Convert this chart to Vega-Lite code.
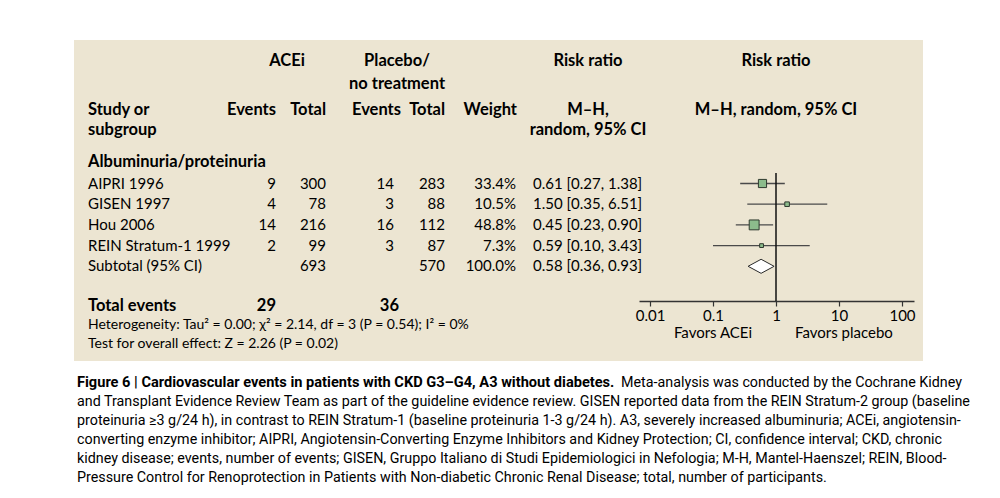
{
  "$schema": "https://vega.github.io/schema/vega-lite/v6.json",
  "width": 849,
  "height": 321,
  "autosize": {"type": "none"},
  "padding": {"left": 74, "top": 40, "right": 77, "bottom": 137},
  "background": "white",
  "config": {
    "view": {"fill": "#ece5d2", "stroke": null},
    "text": {"font": "Lato", "fontSize": 15, "color": "#000000", "baseline": "middle"}
  },
  "datasets": {
    "studies": [
      {"study": "AIPRI 1996", "line": "r1", "acei_e": 9, "acei_n": 300, "pl_e": 14, "pl_n": 283, "weight": "33.4%", "w": 33.4, "rr": 0.61, "lo": 0.27, "hi": 1.38, "ci": "0.61 [0.27, 1.38]", "kind": "study"},
      {"study": "GISEN 1997", "line": "r2", "acei_e": 4, "acei_n": 78, "pl_e": 3, "pl_n": 88, "weight": "10.5%", "w": 10.5, "rr": 1.5, "lo": 0.35, "hi": 6.51, "ci": "1.50 [0.35, 6.51]", "kind": "study"},
      {"study": "Hou 2006", "line": "r3", "acei_e": 14, "acei_n": 216, "pl_e": 16, "pl_n": 112, "weight": "48.8%", "w": 48.8, "rr": 0.45, "lo": 0.23, "hi": 0.9, "ci": "0.45 [0.23, 0.90]", "kind": "study"},
      {"study": "REIN Stratum-1 1999", "line": "r4", "acei_e": 2, "acei_n": 99, "pl_e": 3, "pl_n": 87, "weight": "7.3%", "w": 7.3, "rr": 0.59, "lo": 0.1, "hi": 3.43, "ci": "0.59 [0.10, 3.43]", "kind": "study"},
      {"study": "Subtotal (95% CI)", "line": "sub", "acei_e": null, "acei_n": 693, "pl_e": null, "pl_n": 570, "weight": "100.0%", "w": 100, "rr": 0.58, "lo": 0.36, "hi": 0.93, "ci": "0.58 [0.36, 0.93]", "kind": "subtotal"}
    ],
    "headers": [
      {"col": "study", "line": "h3", "label": "Study or"},
      {"col": "study", "line": "h4", "label": "subgroup"},
      {"col": "acei", "line": "h1", "label": "ACEi"},
      {"col": "acei_e", "line": "h3", "label": "Events"},
      {"col": "acei_n", "line": "h3", "label": "Total"},
      {"col": "pl", "line": "h1", "label": "Placebo/"},
      {"col": "pl", "line": "h2", "label": "no treatment"},
      {"col": "pl_e", "line": "h3", "label": "Events"},
      {"col": "pl_n", "line": "h3", "label": "Total"},
      {"col": "wt", "line": "h3", "label": "Weight"},
      {"col": "rr", "line": "h1", "label": "Risk ratio"},
      {"col": "rr", "line": "h3", "label": "M–H,"},
      {"col": "rr", "line": "h4", "label": "random, 95% CI"},
      {"col": "forest", "line": "h1", "label": "Risk ratio"},
      {"col": "forest", "line": "h3", "label": "M–H, random, 95% CI"}
    ],
    "totals": [
      {"label": "Total events", "line": "tot", "acei": 29, "pl": 36}
    ],
    "notes": [
      {"key": "het", "line": "het", "label": "Heterogeneity: Tau² = 0.00; χ² = 2.14, df = 3 (P = 0.54); I² = 0%"},
      {"key": "test", "line": "test", "label": "Test for overall effect: Z = 2.26 (P = 0.02)"}
    ],
    "captions": [
      {"line": "c1", "part": "bold", "label": "Figure 6 | Cardiovascular events in patients with CKD G3–G4, A3 without diabetes."},
      {"line": "c1", "part": "tail", "label": "Meta-analysis was conducted by the Cochrane Kidney"},
      {"line": "c2", "part": "body", "label": "and Transplant Evidence Review Team as part of the guideline evidence review. GISEN reported data from the REIN Stratum-2 group (baseline"},
      {"line": "c3", "part": "body", "label": "proteinuria ≥3 g/24 h), in contrast to REIN Stratum-1 (baseline proteinuria 1-3 g/24 h). A3, severely increased albuminuria; ACEi, angiotensin-"},
      {"line": "c4", "part": "body", "label": "converting enzyme inhibitor; AIPRI, Angiotensin-Converting Enzyme Inhibitors and Kidney Protection; CI, confidence interval; CKD, chronic"},
      {"line": "c5", "part": "body", "label": "kidney disease; events, number of events; GISEN, Gruppo Italiano di Studi Epidemiologici in Nefologia; M-H, Mantel-Haenszel; REIN, Blood-"},
      {"line": "c6", "part": "body", "label": "Pressure Control for Renoprotection in Patients with Non-diabetic Chronic Renal Disease; total, number of participants."}
    ]
  },
  "layer": [
    {
      "data": {"name": "headers"},
      "layer": [
        {"transform": [{"filter": "datum.col == 'study'"}], "mark": {"type": "text", "align": "left", "fontWeight": "bold", "fontSize": 16.5},
         "encoding": {"x": {"value": 14}, "y": {"field": "line", "type": "nominal", "scale": {"type": "point", "domain": ["h1", "x1", "x2", "x3", "x4", "x5", "x6", "x7", "h2", "x8", "x9", "x10", "x11", "x12", "x13", "x14", "x15", "h3", "x16", "x17", "x18", "x19", "x20", "x21", "h4"], "range": [21, 90], "padding": 0}, "axis": null}, "text": {"field": "label"}}},
        {"transform": [{"filter": "datum.col == 'acei'"}], "mark": {"type": "text", "align": "center", "fontWeight": "bold", "fontSize": 16.5},
         "encoding": {"x": {"value": 213}, "y": {"field": "line", "type": "nominal", "scale": {"type": "point", "domain": ["h1", "x1", "x2", "x3", "x4", "x5", "x6", "x7", "h2", "x8", "x9", "x10", "x11", "x12", "x13", "x14", "x15", "h3", "x16", "x17", "x18", "x19", "x20", "x21", "h4"], "range": [21, 90], "padding": 0}, "axis": null}, "text": {"field": "label"}}},
        {"transform": [{"filter": "datum.col == 'acei_e'"}], "mark": {"type": "text", "align": "right", "fontWeight": "bold", "fontSize": 16.5},
         "encoding": {"x": {"value": 202}, "y": {"field": "line", "type": "nominal", "scale": {"type": "point", "domain": ["h1", "x1", "x2", "x3", "x4", "x5", "x6", "x7", "h2", "x8", "x9", "x10", "x11", "x12", "x13", "x14", "x15", "h3", "x16", "x17", "x18", "x19", "x20", "x21", "h4"], "range": [21, 90], "padding": 0}, "axis": null}, "text": {"field": "label"}}},
        {"transform": [{"filter": "datum.col == 'acei_n'"}], "mark": {"type": "text", "align": "right", "fontWeight": "bold", "fontSize": 16.5},
         "encoding": {"x": {"value": 252}, "y": {"field": "line", "type": "nominal", "scale": {"type": "point", "domain": ["h1", "x1", "x2", "x3", "x4", "x5", "x6", "x7", "h2", "x8", "x9", "x10", "x11", "x12", "x13", "x14", "x15", "h3", "x16", "x17", "x18", "x19", "x20", "x21", "h4"], "range": [21, 90], "padding": 0}, "axis": null}, "text": {"field": "label"}}},
        {"transform": [{"filter": "datum.col == 'pl'"}], "mark": {"type": "text", "align": "center", "fontWeight": "bold", "fontSize": 16.5},
         "encoding": {"x": {"value": 323}, "y": {"field": "line", "type": "nominal", "scale": {"type": "point", "domain": ["h1", "x1", "x2", "x3", "x4", "x5", "x6", "x7", "h2", "x8", "x9", "x10", "x11", "x12", "x13", "x14", "x15", "h3", "x16", "x17", "x18", "x19", "x20", "x21", "h4"], "range": [21, 90], "padding": 0}, "axis": null}, "text": {"field": "label"}}},
        {"transform": [{"filter": "datum.col == 'pl_e'"}], "mark": {"type": "text", "align": "right", "fontWeight": "bold", "fontSize": 16.5},
         "encoding": {"x": {"value": 327}, "y": {"field": "line", "type": "nominal", "scale": {"type": "point", "domain": ["h1", "x1", "x2", "x3", "x4", "x5", "x6", "x7", "h2", "x8", "x9", "x10", "x11", "x12", "x13", "x14", "x15", "h3", "x16", "x17", "x18", "x19", "x20", "x21", "h4"], "range": [21, 90], "padding": 0}, "axis": null}, "text": {"field": "label"}}},
        {"transform": [{"filter": "datum.col == 'pl_n'"}], "mark": {"type": "text", "align": "right", "fontWeight": "bold", "fontSize": 16.5},
         "encoding": {"x": {"value": 371}, "y": {"field": "line", "type": "nominal", "scale": {"type": "point", "domain": ["h1", "x1", "x2", "x3", "x4", "x5", "x6", "x7", "h2", "x8", "x9", "x10", "x11", "x12", "x13", "x14", "x15", "h3", "x16", "x17", "x18", "x19", "x20", "x21", "h4"], "range": [21, 90], "padding": 0}, "axis": null}, "text": {"field": "label"}}},
        {"transform": [{"filter": "datum.col == 'wt'"}], "mark": {"type": "text", "align": "right", "fontWeight": "bold", "fontSize": 16.5},
         "encoding": {"x": {"value": 443}, "y": {"field": "line", "type": "nominal", "scale": {"type": "point", "domain": ["h1", "x1", "x2", "x3", "x4", "x5", "x6", "x7", "h2", "x8", "x9", "x10", "x11", "x12", "x13", "x14", "x15", "h3", "x16", "x17", "x18", "x19", "x20", "x21", "h4"], "range": [21, 90], "padding": 0}, "axis": null}, "text": {"field": "label"}}},
        {"transform": [{"filter": "datum.col == 'rr'"}], "mark": {"type": "text", "align": "center", "fontWeight": "bold", "fontSize": 16.5},
         "encoding": {"x": {"value": 514}, "y": {"field": "line", "type": "nominal", "scale": {"type": "point", "domain": ["h1", "x1", "x2", "x3", "x4", "x5", "x6", "x7", "h2", "x8", "x9", "x10", "x11", "x12", "x13", "x14", "x15", "h3", "x16", "x17", "x18", "x19", "x20", "x21", "h4"], "range": [21, 90], "padding": 0}, "axis": null}, "text": {"field": "label"}}},
        {"transform": [{"filter": "datum.col == 'forest'"}], "mark": {"type": "text", "align": "center", "fontWeight": "bold", "fontSize": 16.5},
         "encoding": {"x": {"datum": 1, "type": "quantitative", "scale": {"type": "log", "domain": [0.00669, 155], "range": [565, 840], "nice": false}, "title": null}, "y": {"field": "line", "type": "nominal", "scale": {"type": "point", "domain": ["h1", "x1", "x2", "x3", "x4", "x5", "x6", "x7", "h2", "x8", "x9", "x10", "x11", "x12", "x13", "x14", "x15", "h3", "x16", "x17", "x18", "x19", "x20", "x21", "h4"], "range": [21, 90], "padding": 0}, "axis": null}, "text": {"field": "label"}}}
      ]
    },
    {
      "layer": [
        {"data": {"values": [{"label": "Albuminuria/proteinuria", "line": "grp"}]},
         "mark": {"type": "text", "align": "left", "fontWeight": "bold", "fontSize": 16.5, "dy": -1},
         "encoding": {"x": {"value": 14}, "y": {"field": "line", "type": "nominal", "scale": {"type": "point", "domain": ["grp", "r1", "r2", "r3", "r4", "sub", "sp", "tot", "het", "test"], "range": [122.8, 309.1], "padding": 0}, "axis": null}, "text": {"field": "label"}}},
        {"data": {"name": "studies"}, "mark": {"type": "text", "align": "left"},
         "encoding": {"x": {"value": 14}, "y": {"field": "line", "type": "nominal", "scale": {"type": "point", "domain": ["grp", "r1", "r2", "r3", "r4", "sub", "sp", "tot", "het", "test"], "range": [122.8, 309.1], "padding": 0}, "axis": null}, "text": {"field": "study"}}},
        {"data": {"name": "studies"}, "transform": [{"filter": "datum.acei_e != null"}], "mark": {"type": "text", "align": "right"},
         "encoding": {"x": {"value": 202}, "y": {"field": "line", "type": "nominal", "scale": {"type": "point", "domain": ["grp", "r1", "r2", "r3", "r4", "sub", "sp", "tot", "het", "test"], "range": [122.8, 309.1], "padding": 0}, "axis": null}, "text": {"field": "acei_e", "type": "nominal"}}},
        {"data": {"name": "studies"}, "mark": {"type": "text", "align": "right"},
         "encoding": {"x": {"value": 252}, "y": {"field": "line", "type": "nominal", "scale": {"type": "point", "domain": ["grp", "r1", "r2", "r3", "r4", "sub", "sp", "tot", "het", "test"], "range": [122.8, 309.1], "padding": 0}, "axis": null}, "text": {"field": "acei_n", "type": "nominal"}}},
        {"data": {"name": "studies"}, "transform": [{"filter": "datum.pl_e != null"}], "mark": {"type": "text", "align": "right"},
         "encoding": {"x": {"value": 320}, "y": {"field": "line", "type": "nominal", "scale": {"type": "point", "domain": ["grp", "r1", "r2", "r3", "r4", "sub", "sp", "tot", "het", "test"], "range": [122.8, 309.1], "padding": 0}, "axis": null}, "text": {"field": "pl_e", "type": "nominal"}}},
        {"data": {"name": "studies"}, "mark": {"type": "text", "align": "right"},
         "encoding": {"x": {"value": 371}, "y": {"field": "line", "type": "nominal", "scale": {"type": "point", "domain": ["grp", "r1", "r2", "r3", "r4", "sub", "sp", "tot", "het", "test"], "range": [122.8, 309.1], "padding": 0}, "axis": null}, "text": {"field": "pl_n", "type": "nominal"}}},
        {"data": {"name": "studies"}, "mark": {"type": "text", "align": "right"},
         "encoding": {"x": {"value": 442}, "y": {"field": "line", "type": "nominal", "scale": {"type": "point", "domain": ["grp", "r1", "r2", "r3", "r4", "sub", "sp", "tot", "het", "test"], "range": [122.8, 309.1], "padding": 0}, "axis": null}, "text": {"field": "weight", "type": "nominal"}}},
        {"data": {"name": "studies"}, "mark": {"type": "text", "align": "left"},
         "encoding": {"x": {"value": 459}, "y": {"field": "line", "type": "nominal", "scale": {"type": "point", "domain": ["grp", "r1", "r2", "r3", "r4", "sub", "sp", "tot", "het", "test"], "range": [122.8, 309.1], "padding": 0}, "axis": null}, "text": {"field": "ci", "type": "nominal"}}},
        {"data": {"name": "studies"}, "transform": [{"filter": "datum.kind == 'study'"}],
         "mark": {"type": "rule", "color": "#4a4a4a", "strokeWidth": 1.3},
         "encoding": {
           "x": {"field": "lo", "type": "quantitative", "scale": {"type": "log", "domain": [0.00669, 155], "range": [565, 840], "nice": false}, "title": null,
                 "axis": {"values": [0.01, 0.1, 1, 10, 100], "format": "~g", "offset": -60, "grid": false, "domainColor": "#333333", "domainWidth": 1.3, "tickColor": "#333333", "tickWidth": 1.2, "tickSize": 5, "labelFont": "Lato", "labelFontSize": 15, "labelColor": "#000000", "labelPadding": 2, "labelFlush": false, "labelOverlap": false, "title": null}},
           "x2": {"field": "hi"},
           "y": {"field": "line", "type": "nominal", "scale": {"type": "point", "domain": ["grp", "r1", "r2", "r3", "r4", "sub", "sp", "tot", "het", "test"], "range": [122.8, 309.1], "padding": 0}, "axis": null}}},
        {"data": {"name": "studies"}, "transform": [{"filter": "datum.kind == 'study'"}],
         "mark": {"type": "square", "filled": true, "color": "#8cbc8c", "stroke": "#2f3a2f", "strokeWidth": 1, "opacity": 1},
         "encoding": {
           "x": {"field": "rr", "type": "quantitative", "scale": {"type": "log", "domain": [0.00669, 155], "range": [565, 840], "nice": false}, "title": null},
           "y": {"field": "line", "type": "nominal", "scale": {"type": "point", "domain": ["grp", "r1", "r2", "r3", "r4", "sub", "sp", "tot", "het", "test"], "range": [122.8, 309.1], "padding": 0}, "axis": null},
           "size": {"field": "w", "type": "quantitative", "scale": {"type": "linear", "domain": [0, 50], "range": [0, 100]}, "legend": null}}},
        {"data": {"name": "studies"}, "transform": [{"filter": "datum.kind == 'subtotal'"}],
         "mark": {"type": "point", "shape": "M -1 0 L 0 -0.54 L 1 0 L 0 0.54 Z", "filled": true, "fill": "white", "stroke": "#2a2a2a", "strokeWidth": 1, "size": 676, "opacity": 1},
         "encoding": {
           "x": {"field": "rr", "type": "quantitative", "scale": {"type": "log", "domain": [0.00669, 155], "range": [565, 840], "nice": false}, "title": null},
           "y": {"field": "line", "type": "nominal", "scale": {"type": "point", "domain": ["grp", "r1", "r2", "r3", "r4", "sub", "sp", "tot", "het", "test"], "range": [122.8, 309.1], "padding": 0}, "axis": null}}},
        {"data": {"values": [{"ref": 1}]},
         "mark": {"type": "rule", "color": "#111111", "strokeWidth": 1.5, "yOffset": -10.5, "y2Offset": -6.7},
         "encoding": {
           "x": {"field": "ref", "type": "quantitative", "scale": {"type": "log", "domain": [0.00669, 155], "range": [565, 840], "nice": false}, "title": null},
           "y": {"datum": "r1", "type": "nominal", "scale": {"type": "point", "domain": ["grp", "r1", "r2", "r3", "r4", "sub", "sp", "tot", "het", "test"], "range": [122.8, 309.1], "padding": 0}, "axis": null},
           "y2": {"datum": "tot"}}},
        {"data": {"name": "totals"}, "mark": {"type": "text", "align": "left", "fontWeight": "bold", "fontSize": 16.5, "dy": -1.5},
         "encoding": {"x": {"value": 14}, "y": {"field": "line", "type": "nominal", "scale": {"type": "point", "domain": ["grp", "r1", "r2", "r3", "r4", "sub", "sp", "tot", "het", "test"], "range": [122.8, 309.1], "padding": 0}, "axis": null}, "text": {"field": "label"}}},
        {"data": {"name": "totals"}, "mark": {"type": "text", "align": "right", "fontWeight": "bold", "fontSize": 16.5, "dy": -1.5},
         "encoding": {"x": {"value": 202}, "y": {"field": "line", "type": "nominal", "scale": {"type": "point", "domain": ["grp", "r1", "r2", "r3", "r4", "sub", "sp", "tot", "het", "test"], "range": [122.8, 309.1], "padding": 0}, "axis": null}, "text": {"field": "acei", "type": "nominal"}}},
        {"data": {"name": "totals"}, "mark": {"type": "text", "align": "right", "fontWeight": "bold", "fontSize": 16.5, "dy": -1.5},
         "encoding": {"x": {"value": 325}, "y": {"field": "line", "type": "nominal", "scale": {"type": "point", "domain": ["grp", "r1", "r2", "r3", "r4", "sub", "sp", "tot", "het", "test"], "range": [122.8, 309.1], "padding": 0}, "axis": null}, "text": {"field": "pl", "type": "nominal"}}},
        {"data": {"name": "notes"}, "transform": [{"filter": "datum.key == 'het'"}], "mark": {"type": "text", "align": "left", "fontSize": 14, "dy": -3},
         "encoding": {"x": {"value": 14}, "y": {"field": "line", "type": "nominal", "scale": {"type": "point", "domain": ["grp", "r1", "r2", "r3", "r4", "sub", "sp", "tot", "het", "test"], "range": [122.8, 309.1], "padding": 0}, "axis": null}, "text": {"field": "label"}}},
        {"data": {"name": "notes"}, "transform": [{"filter": "datum.key == 'test'"}], "mark": {"type": "text", "align": "left", "fontSize": 14, "dy": -5},
         "encoding": {"x": {"value": 14}, "y": {"field": "line", "type": "nominal", "scale": {"type": "point", "domain": ["grp", "r1", "r2", "r3", "r4", "sub", "sp", "tot", "het", "test"], "range": [122.8, 309.1], "padding": 0}, "axis": null}, "text": {"field": "label"}}},
        {"data": {"values": [{"label": "Favors ACEi", "line": "het"}]}, "mark": {"type": "text", "align": "center", "dy": 5},
         "encoding": {"x": {"datum": 0.1, "type": "quantitative", "scale": {"type": "log", "domain": [0.00669, 155], "range": [565, 840], "nice": false}, "title": null}, "y": {"field": "line", "type": "nominal", "scale": {"type": "point", "domain": ["grp", "r1", "r2", "r3", "r4", "sub", "sp", "tot", "het", "test"], "range": [122.8, 309.1], "padding": 0}, "axis": null}, "text": {"field": "label"}}},
        {"data": {"values": [{"label": "Favors placebo", "line": "het"}]}, "mark": {"type": "text", "align": "center", "dy": 5},
         "encoding": {"x": {"datum": 12, "type": "quantitative", "scale": {"type": "log", "domain": [0.00669, 155], "range": [565, 840], "nice": false}, "title": null}, "y": {"field": "line", "type": "nominal", "scale": {"type": "point", "domain": ["grp", "r1", "r2", "r3", "r4", "sub", "sp", "tot", "het", "test"], "range": [122.8, 309.1], "padding": 0}, "axis": null}, "text": {"field": "label"}}}
      ]
    },
    {
      "data": {"name": "captions"},
      "layer": [
        {"transform": [{"filter": "datum.part == 'bold'"}], "mark": {"type": "text", "align": "left", "fontWeight": "bold", "font": "Roboto", "fontSize": 14.6},
         "encoding": {"x": {"value": 3}, "y": {"field": "line", "type": "nominal", "scale": {"type": "point", "domain": ["c1", "c2", "c3", "c4", "c5", "c6"], "range": [343, 438], "padding": 0}, "axis": null}, "text": {"field": "label"}}},
        {"transform": [{"filter": "datum.part == 'tail'"}], "mark": {"type": "text", "align": "right", "font": "Roboto", "fontSize": 14.3},
         "encoding": {"x": {"value": 888}, "y": {"field": "line", "type": "nominal", "scale": {"type": "point", "domain": ["c1", "c2", "c3", "c4", "c5", "c6"], "range": [343, 438], "padding": 0}, "axis": null}, "text": {"field": "label"}}},
        {"transform": [{"filter": "datum.part == 'body'"}], "mark": {"type": "text", "align": "left", "font": "Roboto", "fontSize": 14.3},
         "encoding": {"x": {"value": 3}, "y": {"field": "line", "type": "nominal", "scale": {"type": "point", "domain": ["c1", "c2", "c3", "c4", "c5", "c6"], "range": [343, 438], "padding": 0}, "axis": null}, "text": {"field": "label"}}}
      ]
    }
  ],
  "resolve": {"scale": {"y": "independent"}}
}
